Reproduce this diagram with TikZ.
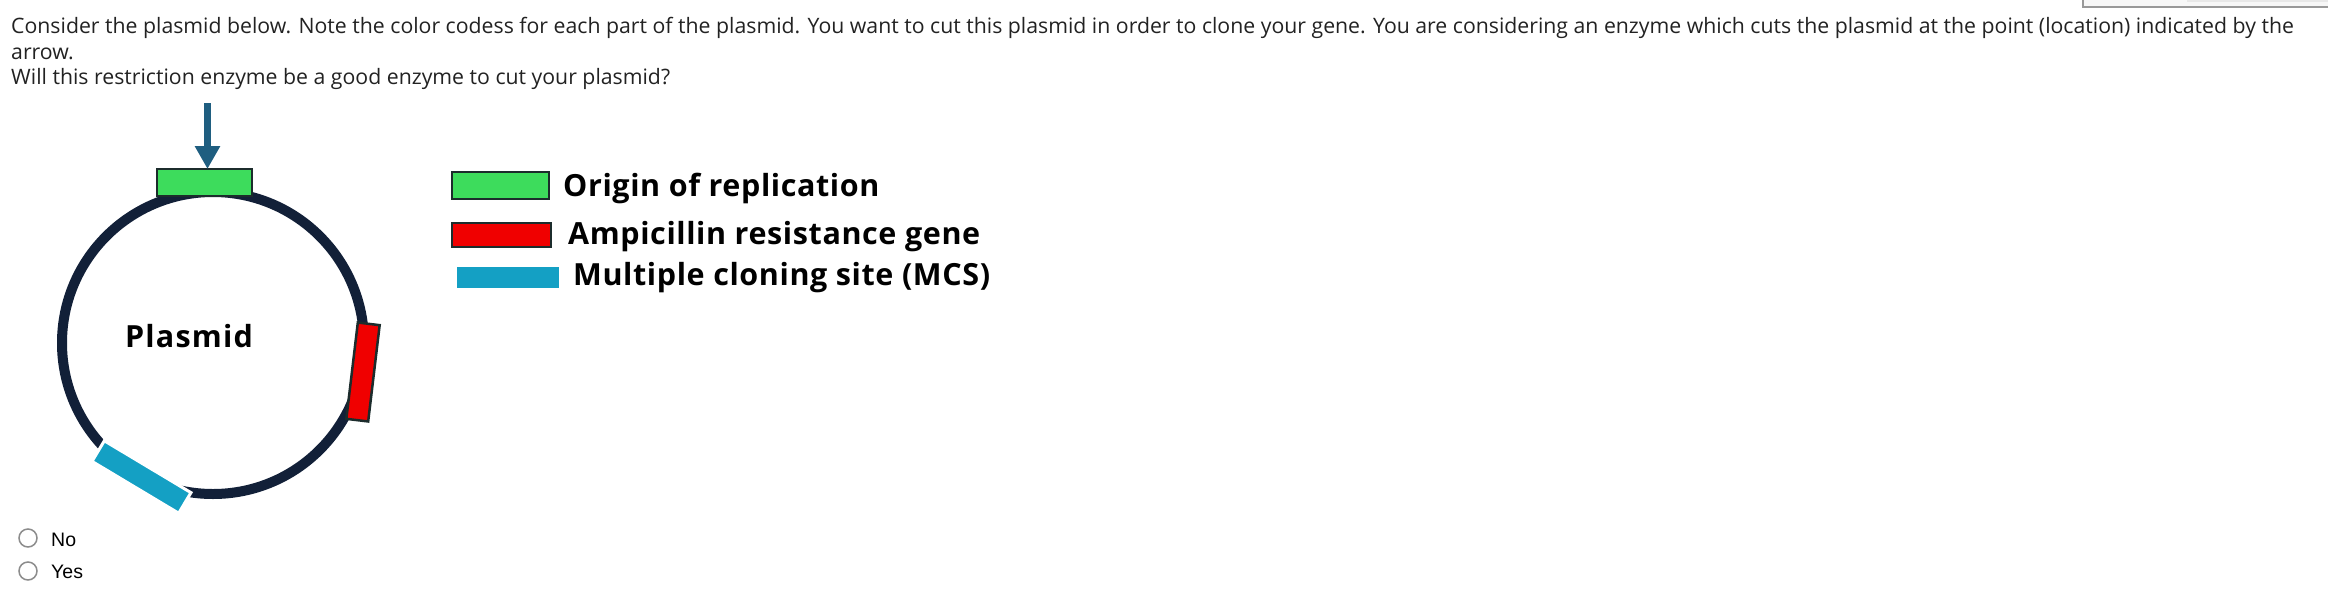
\documentclass[tikz,border=0pt]{standalone}
\usepackage{fontspec}
\usetikzlibrary{arrows.meta}
\newfontfamily\qfont{Open Sans}
\newfontfamily\figfont[LetterSpace=2]{Open Sans}
\newfontfamily\namefont[LetterSpace=4]{Open Sans}
\newfontfamily\ansfont{Liberation Sans}
\definecolor{ringblue}{RGB}{18,32,56}
\definecolor{oricol}{RGB}{61,220,92}
\definecolor{ampcol}{RGB}{240,0,0}
\definecolor{mcscol}{RGB}{20,160,196}
\definecolor{edgecol}{RGB}{28,44,44}
\definecolor{cutcol}{RGB}{31,94,128}
\definecolor{qtext}{RGB}{34,34,34}

\begin{document}
\begin{tikzpicture}[x=1pt,y=-1pt,
    question/.style={anchor=base west,inner sep=0,font=\qfont\fontsize{21.25}{25}\selectfont,text=qtext},
    gene/.style={draw=edgecol,line width=2.5pt,inner sep=0,outer sep=0},
    keytext/.style={anchor=base west,inner sep=0,font=\figfont\bfseries\fontsize{30.5}{34}\selectfont},
    radio/.style={circle,draw=black!45,line width=1.5pt,minimum size=18pt,inner sep=0},
    answer/.style={anchor=base west,inner sep=0,font=\ansfont\fontsize{19.5}{23}\selectfont}]

    \useasboundingbox (0,0) rectangle (2328,608);

    %browser box, top right
    \draw[fill=black!3,draw=black!40,line width=1.3pt] (2083,-5) rectangle (2340,7);
    \fill[black!9] (2187,-5) rectangle (2340,1.5);

    %question
    \node[question] (q1) at (11,33) {Consider the plasmid below. Note the color codess for each part of the plasmid. You want to cut this plasmid in order to clone your gene. You are considering an enzyme which cuts the plasmid at the point (location) indicated by the};
    \node[question] (q2) at (11,59) {arrow.};
    \node[question] (q3) at (11,84) {Will this restriction enzyme be a good enzyme to cut your plasmid?};

    %plasmid
    \node[circle,draw=ringblue,line width=10pt,minimum size=302pt,inner sep=0,outer sep=0] (ring) at (213,343) {};
    \node[inner sep=0,font=\namefont\bfseries\fontsize{30.5}{34}\selectfont] (name) at (189,336) {Plasmid};

    %genes
    \node[gene,fill=oricol,minimum width=95pt,minimum height=27pt] (ori) at (204.5,182.5) {};
    \node[gene,fill=ampcol,minimum width=22pt,minimum height=97pt,rotate=-6.8] (amp) at (363,372) {};
    \node[draw=white,line width=3pt,fill=mcscol,minimum width=101pt,minimum height=24pt,inner sep=0,rotate=-30.9] (mcs) at (141.5,477) {};

    %cut site
    \coordinate (cut) at (207.5,103);
    \draw[cutcol,line width=7pt,-{Triangle[width=24pt,length=23pt]}] (cut) -- (cut |- ori.north);

    %key
    \node[gene,fill=oricol,minimum width=97pt,minimum height=27pt,anchor=north west] (keyori) at (452,172) {};
    \node[gene,fill=ampcol,minimum width=99pt,minimum height=24pt,anchor=north west] (keyamp) at (452,223) {};
    \node[fill=mcscol,minimum width=102pt,minimum height=21pt,inner sep=0,anchor=north west] (keymcs) at (457,267) {};
    \node[keytext] (oritxt) at (563,196) {Origin of replication};
    \node[keytext] (amptxt) at (568,244) {Ampicillin resistance gene};
    \node[keytext] (mcstxt) at (573,285) {Multiple cloning site (MCS)};

    %answers
    \node[radio] (rno) at (28,538) {};
    \node[radio] (ryes) at (28,571) {};
    \node[answer] (no) at (51,546) {No};
    \node[answer] (yes) at (51,578) {Yes};
\end{tikzpicture}
\end{document}
